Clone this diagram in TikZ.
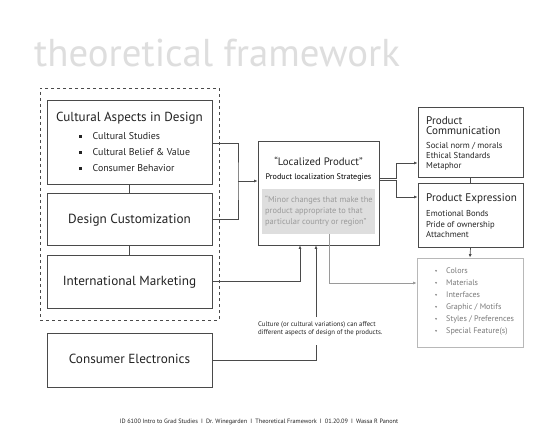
\documentclass[tikz,border=0pt]{standalone}
\usepackage{fontspec}
\setmainfont{PT Sans}
\usepackage{tikz}
\usetikzlibrary{arrows.meta, positioning, calc}
\definecolor{inkgray}{HTML}{232323}
\definecolor{linegray}{HTML}{4A4A4A}
\definecolor{notegray}{HTML}{9A9A9A}
\definecolor{shadegray}{HTML}{DEDEDE}
\definecolor{listgray}{HTML}{7A7A7A}
\definecolor{titlegray}{HTML}{DEDEDE}
\newcommand{\sqbul}{\rule[0.15em]{3pt}{3pt}}
\newcommand{\dotbul}{\raisebox{0.22em}{\tikz\fill[listgray] (0,0) circle (0.9pt);}}
\tikzset{
  fwbox/.style={draw=linegray, line width=0.9pt, inner sep=0pt},
  headtext/.style={font=\fontsize{13.2}{15}\selectfont, text=inkgray, inner sep=0pt, text depth=0.22em},
  subtext/.style={font=\fontsize{8.6}{10}\selectfont, text=inkgray, align=left, inner sep=0pt},
  link/.style={draw=linegray, line width=0.7pt},
  tip/.style={-{Latex[length=3.5pt,width=3pt]}}
}
\begin{document}
\begin{tikzpicture}[x=1pt, y=-1pt]
  \useasboundingbox[fill=white] (0,0) rectangle (560,433);

  % Title
  \node[font=\fontsize{38.8}{42}\selectfont, text=titlegray, anchor=base west, inner sep=0pt] (title) at (34,67) {theoretical framework};

  % Left column
  \node[draw=linegray, dashed, line width=0.8pt, minimum width=179, minimum height=232, inner sep=0pt] (grp) at (129.5,204) {};
  \node[fwbox, minimum width=165, minimum height=84] (cad) at (129.5,142) {};
  \node[headtext, font=\fontsize{13.1}{15}\selectfont, text depth=0pt, anchor=base] (cadhead) at (129.5,121.7) {Cultural Aspects in Design};
  \node[subtext, font=\fontsize{9.9}{16.2}\selectfont, anchor=north west] (cadlist) at (78.5,132) {
    \sqbul\hspace{11pt}Cultural Studies\\
    \sqbul\hspace{11pt}Cultural Belief \& Value\\
    \sqbul\hspace{11pt}Consumer Behavior
  };
  \node[fwbox, minimum width=165, minimum height=52, headtext] (dc) at (129.5,219.5) {Design Customization};
  \node[fwbox, minimum width=165, minimum height=53, headtext] (im) at (129.5,281.5) {International Marketing};
  \node[fwbox, minimum width=165, minimum height=54, headtext] (ce) at (129.5,360) {Consumer Electronics};

  \draw[link] (cad.south) -- (dc.north);
  \draw[link] (dc.south) -- (im.north);

  % Localized product
  \node[fwbox, minimum width=121, minimum height=104] (lp) at (318.5,193) {};
  \node[headtext, font=\fontsize{10.8}{12}\selectfont, text depth=0pt, anchor=base] (lphead) at (318.5,166) {“Localized Product”};
  \node[subtext, font=\fontsize{8.1}{9}\selectfont, text=black, anchor=base] (lpsub) at (318.5,179.3) {Product localization Strategies};
  \node[fill=shadegray, minimum width=113, minimum height=45, inner sep=0pt] (lpnote) at (318.5,211.5) {};
  \node[subtext, text=notegray, font=\fontsize{8.4}{10.8}\selectfont, anchor=north west] (lpnotetext) at (265,195.7) {
    “Minor changes that make the\\
    product appropriate to that\\
    particular country or region”
  };

  % Right column
  \node[fwbox, minimum width=105, minimum height=70] (pc) at (470.5,142) {};
  \node[headtext, font=\fontsize{11.1}{12}\selectfont, text depth=0pt, anchor=base west] (pchead) at (426,125) {Product};
  \node[headtext, font=\fontsize{11.1}{12}\selectfont, text depth=0pt, anchor=base west] (pchead2) at (426,135) {Communication};
  \node[subtext, anchor=north west] (pclist) at (426,141.8) {
    Social norm / morals\\
    Ethical Standards\\
    Metaphor
  };
  \node[fwbox, minimum width=105, minimum height=64] (pe) at (470.5,215) {};
  \node[headtext, font=\fontsize{11.1}{12}\selectfont, text depth=0pt, anchor=base west] (pehead) at (426,201.7) {Product Expression};
  \node[subtext, font=\fontsize{8.6}{10.9}\selectfont, anchor=north west] (pelist) at (426,209.9) {
    Emotional Bonds\\
    Pride of ownership\\
    Attachment
  };
  \draw[link] (pc.south) -- (pe.north);

  \node[draw=notegray!70, line width=0.8pt, minimum width=106, minimum height=89, inner sep=0pt] (feat) at (470,302.5) {};
  \node[subtext, text=listgray, font=\fontsize{8.1}{12}\selectfont, anchor=north west] (featlist) at (435,267.5) {
    \dotbul\hspace{9.2pt}Colors\\
    \dotbul\hspace{9.2pt}Materials\\
    \dotbul\hspace{9.2pt}Interfaces\\
    \dotbul\hspace{9.2pt}Graphic / Motifs\\
    \dotbul\hspace{9.2pt}Styles / Preferences\\
    \dotbul\hspace{9.2pt}Special Feature(s)
  };

  % Connectors
  \coordinate (join) at (238,181);
  \draw[link] (cad.east |- 0,143) -| (join) |- (dc.east);
  \draw[link, tip] (join) -- (lp.west |- join);
  \draw[link, tip] (im.east) -| (lp.south -| 300,0);

  \coordinate (fork) at (396,0);
  \draw[link, tip] ($(lp.east)+(0,-15)$) -| ($(fork |- lp.east)+(0,-15)$) |- (pc.west |- 0,163);
  \draw[link, tip] ($(lp.east)+(0,-12.5)$) -| ($(fork |- lp.east)+(0,-12.5)$) |- (pe.west |- 0,197);
  \draw[link, tip] (pe.south) -- (feat.north);
  \draw[draw=notegray, line width=0.7pt, tip] (lpnote.south -| 329,0) |- (feat.west |- 0,283);

  % Culture note
  \node[subtext, font=\fontsize{6.8}{8.3}\selectfont, anchor=north west] (cnote) at (258,321.5) {
    Culture (or cultural variations) can affect\\
    different aspects of design of the products.
  };
  \coordinate (cbelow) at (316,345);
  \coordinate (cabove) at (316,317);
  \draw[link] (ce.east) -| (cbelow);
  \draw[link, tip] (cabove) -- (lp.south -| cabove);

  % Footer
  \node[font=\fontsize{6.25}{7}\selectfont, text=inkgray, inner sep=0pt, anchor=base] (footer) at (259,423.3) {ID 6100 Intro to Grad Studies\enspace I\enspace Dr. Winegarden\enspace I\enspace Theoretical Framework\enspace I\enspace 01.20.09\enspace I\enspace Wassa R Panont};
\end{tikzpicture}
\end{document}
